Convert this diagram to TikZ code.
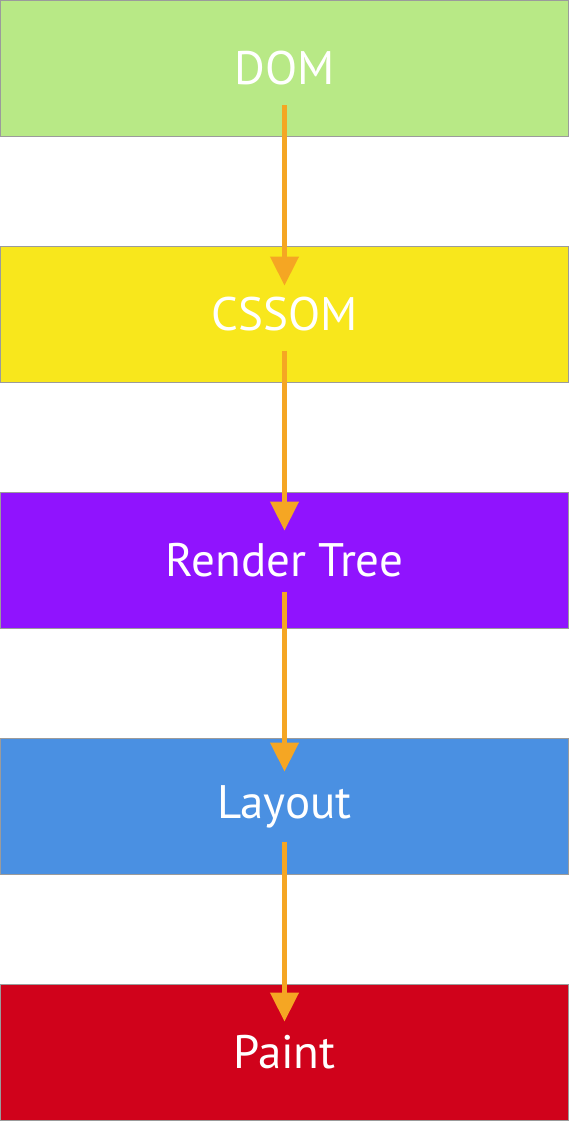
\documentclass[tikz,border=0pt]{standalone}
\usepackage{fontspec}
\setmainfont{PT Sans}
\usetikzlibrary{arrows.meta, positioning}

\definecolor{domgreen}{HTML}{B8E986}
\definecolor{cssyellow}{HTML}{F8E71C}
\definecolor{renderpurple}{HTML}{9013FE}
\definecolor{layoutblue}{HTML}{4A90E2}
\definecolor{paintred}{HTML}{D0021B}
\definecolor{flowarrow}{HTML}{F5A623}
\definecolor{boxborder}{HTML}{9B9B9B}

\begin{document}
\begin{tikzpicture}[x=1pt, y=1pt, node distance=109pt]
			\tikzstyle{Stage} = [ %one step of the pipeline
				rectangle,
				draw=boxborder,
				line width=1pt,
				minimum width=568pt,
				minimum height=136pt,
				inner sep=0pt,
				text=white,
				font=\fontsize{47}{50}\selectfont
			]
			\tikzstyle{Flow} = [
				draw=flowarrow,
				line width=4.5pt,
				-{Triangle[width=28pt, length=29pt]}
			]
			\useasboundingbox (0,0) rectangle (569,-1121);

			\node (dom) [Stage, fill=domgreen] at (284.5,-68.5) {DOM};
			\node (cssom) [Stage, fill=cssyellow, below = of dom] {CSSOM};
			\node (render) [Stage, fill=renderpurple, below = of cssom] {Render Tree};
			\node (layout) [Stage, fill=layoutblue, below = of render] {Layout};
			\node (paint) [Stage, fill=paintred, below = of layout] {Paint};

			\draw[Flow] ([yshift=-37pt]dom.center) -- ([yshift=29pt]cssom.center);
			\draw[Flow] ([yshift=-36pt]cssom.center) -- ([yshift=30pt]render.center);
			\draw[Flow] ([yshift=-31pt]render.center) -- ([yshift=35pt]layout.center);
			\draw[Flow] ([yshift=-35pt]layout.center) -- ([yshift=31pt]paint.center);
		\end{tikzpicture}
\end{document}
